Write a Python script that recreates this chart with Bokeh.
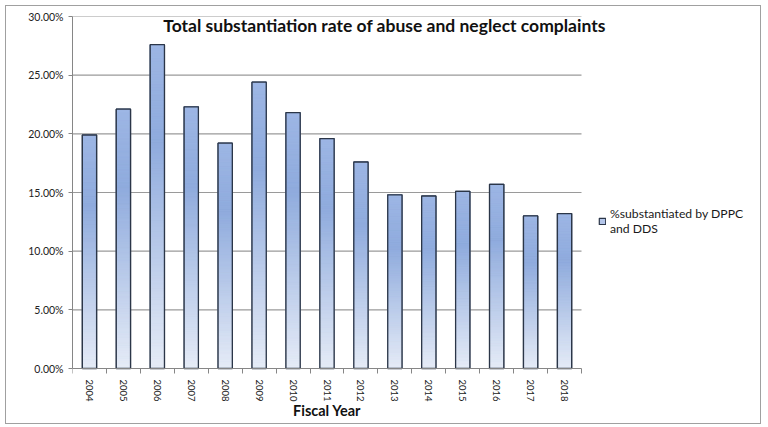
import math
from bokeh.plotting import figure
from bokeh.models import (ColumnDataSource, Range1d, FixedTicker, NumeralTickFormatter,
                          Label, Legend, LegendItem)
from bokeh.embed import file_html
from bokeh.resources import INLINE

## ----- DATA ----- ##
years = ["2004", "2005", "2006", "2007", "2008", "2009", "2010", "2011",
         "2012", "2013", "2014", "2015", "2016", "2017", "2018"]
pct_substantiated = [0.199, 0.221, 0.276, 0.223, 0.192, 0.244, 0.218, 0.196,
                     0.176, 0.148, 0.147, 0.151, 0.157, 0.130, 0.132]
y_ticks = [0.0, 0.05, 0.10, 0.15, 0.20, 0.25, 0.30]

TITLE = "Total substantiation rate of abuse and neglect complaints"
X_TITLE = "Fiscal Year"
SERIES = "%substantiated by DPPC\nand DDS"
FONT = "Lato"

## ----- LAYOUT ----- ##
# the frame covers the whole chart area, so titles / legend are never clipped;
# bars live in the left part, the x axis is pinned at y = 0
FIG_W, FIG_H = 756, 419
LEFT, TOP = 66, 10
PLOT_W, PLOT_H = 509, 352          # px of the actual bar area
n = len(years)
y_max = y_ticks[-1]
x_end = -0.5 + n * (FIG_W - LEFT) / PLOT_W
y_start = -y_max * (FIG_H - TOP - PLOT_H) / PLOT_H

## ----- EXCEL-ISH GRADIENT ----- ##
# stops: 0 = top of bar, 1 = bottom of bar
STOPS = [(0.0, (0x9D, 0xB6, 0xE4)), (0.3, (0x8F, 0xAB, 0xDD)), (1.0, (0xE6, 0xEC, 0xF7))]


def grad_colour(t):
    for (t0, c0), (t1, c1) in zip(STOPS[:-1], STOPS[1:]):
        if t <= t1:
            f = (t - t0) / (t1 - t0)
            return "#%02x%02x%02x" % tuple(int(round(a + (b - a) * f)) for a, b in zip(c0, c1))
    return "#%02x%02x%02x" % STOPS[-1][1]


N_SLICES = 100
sx, sbot, stop, scol = [], [], [], []
for i, v in enumerate(pct_substantiated):
    for k in range(N_SLICES):
        sx.append(i)
        sbot.append(v * k / N_SLICES)
        stop.append(v * (k + 1) / N_SLICES)
        scol.append(grad_colour(1 - (k + 0.5) / N_SLICES))

slices = ColumnDataSource(data=dict(x=sx, bottom=sbot, top=stop, color=scol))
bars = ColumnDataSource(data=dict(x=list(range(n)), top=pct_substantiated))

## ----- FIGURE ----- ##
p = figure(width=FIG_W, height=FIG_H, output_backend="svg", toolbar_location=None,
           x_range=Range1d(-0.5, x_end), y_range=Range1d(y_start, y_max),
           min_border_left=LEFT, min_border_right=0, min_border_top=TOP, min_border_bottom=0)
p.styles = {"margin": "5px 0 0 5px", "border": "1px solid #a0a0a0"}
p.outline_line_color = None
p.background_fill_color = "white"
p.border_fill_color = "white"
p.grid.visible = False

# horizontal gridlines only across the bar area
p.segment(x0=-0.5, x1=n - 0.5, y0=y_ticks[1:], y1=y_ticks[1:], line_color="#9a9a9a", line_width=1.2)

base = p.vbar(x="x", top="top", width=0.42, fill_color="#B3C5E9", line_color="#2B3648",
              line_width=1.2, source=bars)
p.vbar(x="x", bottom="bottom", top="top", width=0.42, fill_color="color",
       line_color="color", line_width=0.8, source=slices)
p.vbar(x="x", top="top", width=0.42, fill_color=None, line_color="#2B3648",
       line_width=1.3, source=bars)

legend = Legend(items=[LegendItem(label=SERIES, renderers=[base])], location=(526, 189))
legend.background_fill_alpha = 0
legend.border_line_color = None
legend.padding = 0
legend.glyph_width = 8
legend.glyph_height = 8
legend.label_standoff = 4
legend.label_text_font = FONT
legend.label_text_font_size = "12.2px"
legend.label_text_color = "#1a1a1a"
p.add_layout(legend)

# y axis
p.yaxis.bounds = (0, y_max)
p.yaxis.ticker = FixedTicker(ticks=y_ticks)
p.yaxis.formatter = NumeralTickFormatter(format="0.00%")
p.yaxis.axis_line_color = "#868686"
p.yaxis.major_tick_line_color = "#868686"
p.yaxis.major_tick_in = 0
p.yaxis.major_tick_out = 4
p.yaxis.minor_tick_line_color = None
p.yaxis.major_label_standoff = 5
p.yaxis.major_label_text_font = FONT
p.yaxis.major_label_text_font_size = "10.5px"
p.yaxis.major_label_text_color = "#222222"

# x axis: pinned at 0, only across the bar area, ticks between categories
p.xaxis.fixed_location = 0
p.xaxis.bounds = (-0.5, n - 0.5)
p.xaxis.ticker = FixedTicker(ticks=list(range(n)),
                             minor_ticks=[i - 0.5 for i in range(n + 1)])
p.xaxis.major_label_overrides = {i: y for i, y in enumerate(years)}
p.xaxis.major_label_orientation = -math.pi / 2
p.xaxis.axis_line_color = "#868686"
p.xaxis.axis_line_width = 1.2
p.xaxis.major_tick_line_color = None
p.xaxis.major_tick_in = 0
p.xaxis.major_tick_out = 0
p.xaxis.minor_tick_line_color = "#868686"
p.xaxis.minor_tick_in = 0
p.xaxis.minor_tick_out = 5
p.xaxis.major_label_standoff = 6
p.xaxis.major_label_text_font = FONT
p.xaxis.major_label_text_font_size = "9.5px"
p.xaxis.major_label_text_color = "#222222"

# axis title below the year labels, centred on the bars
p.add_layout(Label(x=(n - 1) / 2, y=-y_max * 42 / PLOT_H, text=X_TITLE, text_align="center",
                   text_baseline="middle", text_font=FONT, text_font_style="bold",
                   text_font_size="14.5px", text_color="#111111"))

# title sits inside the plot area, like the Excel chart
p.add_layout(Label(x=8.695, y=y_max * (1 - 9 / PLOT_H), text=TITLE, text_align="center",
                   text_baseline="middle", text_font=FONT, text_font_style="bold",
                   text_font_size="17.5px", text_color="#111111"))

open("out.html", "w").write(file_html(p, INLINE))
